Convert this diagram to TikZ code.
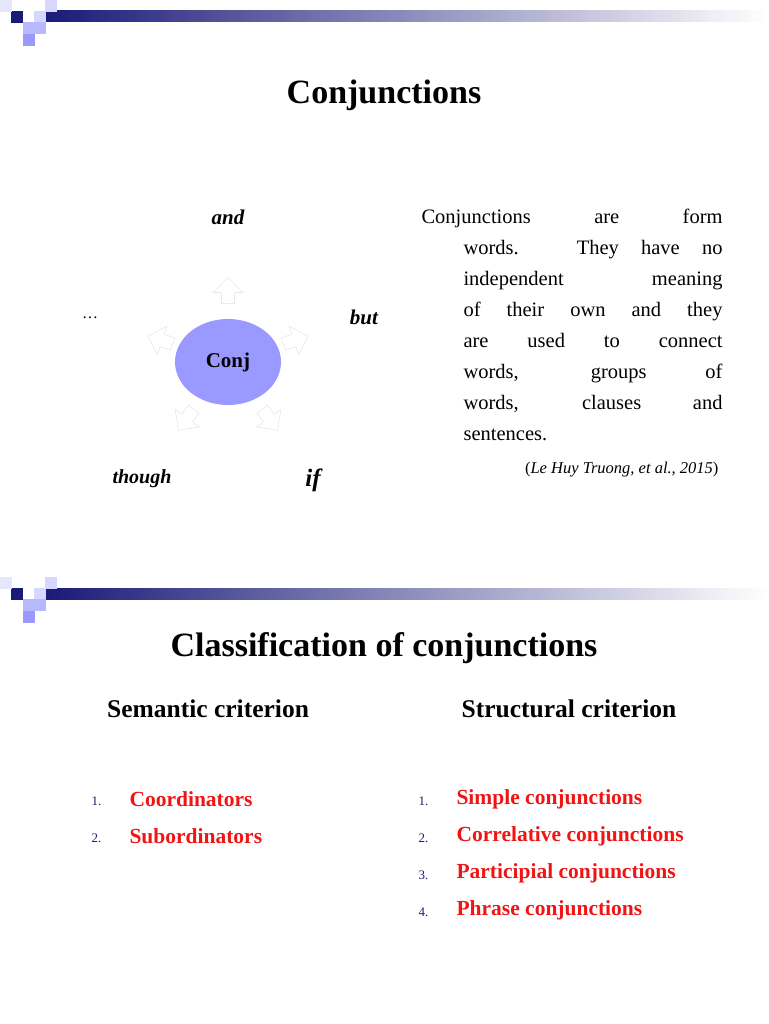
\documentclass[tikz,border=0pt]{standalone}
\usepackage{fontspec}
\setmainfont{Liberation Serif}
\usetikzlibrary{shapes.arrows,shapes.geometric,calc}
\definecolor{navy}{RGB}{26,26,120}
\definecolor{lilac}{RGB}{153,153,255}
\definecolor{redtxt}{RGB}{240,20,20}
\begin{document}
\begin{tikzpicture}[x=1pt,y=-1pt,
  sq/.style={minimum size=12pt, inner sep=0pt, anchor=north west},
  word/.style={font=\fontsize{21}{24}\selectfont\bfseries\itshape},
  head/.style={font=\fontsize{25.5}{28}\selectfont\bfseries},
  num/.style={font=\fontsize{13}{15}\selectfont, text=navy, anchor=west},
  item/.style={font=\fontsize{21.5}{24}\selectfont\bfseries, text=redtxt, anchor=west},
  spoke/.style={single arrow, draw=gray!25, minimum height=26pt, minimum width=30pt, single arrow head extend=4pt, inner sep=3pt}
]
\useasboundingbox (0,0) rectangle (768,1024);
% header bars
\foreach \y in {0,577}{
  \shade[left color=navy, right color=white] (45,11+\y) rectangle (768,22+\y);
  \node[sq, fill=navy] at (11,11+\y) {};
  \node[sq, fill=lilac!40] at (45,0+\y) {};
  \node[sq, fill=lilac!40] at (34,11+\y) {};
  \node[sq, fill=lilac!70] at (23,22+\y) {};
  \node[sq, fill=lilac!70] at (34,22+\y) {};
  \node[sq, fill=lilac] at (23,34+\y) {};
  \node[sq, fill=lilac!25] at (0,0+\y) {};
}
\node[font=\fontsize{34}{38}\selectfont\bfseries] (title) at (384,95) {Conjunctions};
% conj wheel
\node[ellipse, fill=lilac, minimum width=106pt, minimum height=86pt,
  font=\fontsize{21}{24}\selectfont\bfseries] (conj) at (228,362) {Conj};
\foreach \a in {90,18,-54,-126,162}
  \node[spoke, rotate=\a] (sp\a) at ($(conj.center)+(-\a:68)$) {};
\node[word] (and) at (228,217) {and};
\node[word] (but) at (364,317) {but};
\node[word, font=\fontsize{25}{28}\selectfont\bfseries\itshape] (if) at (313,480) {if};
\node[word, font=\fontsize{20}{24}\selectfont\bfseries\itshape] (though) at (142,479) {though};
\node[font=\fontsize{16}{20}\selectfont] (dots) at (90,318) {\dots};
% definition
\node[text width=259pt, anchor=north west, align=justify, font=\fontsize{20.5}{31}\selectfont] (defn) at (460,206)
  {\leftskip=42pt\hspace*{-42pt}Conjunctions are form\linebreak words. They have no\linebreak independent meaning\linebreak of their own and they\linebreak are used to connect\linebreak words, groups of\linebreak words, clauses and\linebreak sentences.};
\node[anchor=east, font=\fontsize{16.5}{20}\selectfont] (src) at (722,470) {(\textit{Le Huy Truong, et al., 2015})};
% classification
\node[font=\fontsize{34}{38}\selectfont\bfseries] (title2) at (384,648) {Classification of conjunctions};
\node[head] (sem) at (208,709) {Semantic criterion};
\node[head] (str) at (569,709) {Structural criterion};
\node[num] (n1) at (88,801) {1.};
\node[item] (i1) at (126,799) {Coordinators};
\node[num] (n2) at (88,838) {2.};
\node[item] (i2) at (126,836) {Subordinators};
\foreach \n/\t [count=\k] in {1/Simple conjunctions,2/Correlative conjunctions,3/Participial conjunctions,4/Phrase conjunctions}{
  \node[num] (m\k) at (415,764+37*\k) {\n.};
  \node[item] (j\k) at (453,762+37*\k) {\t};
}
\end{tikzpicture}
\end{document}
